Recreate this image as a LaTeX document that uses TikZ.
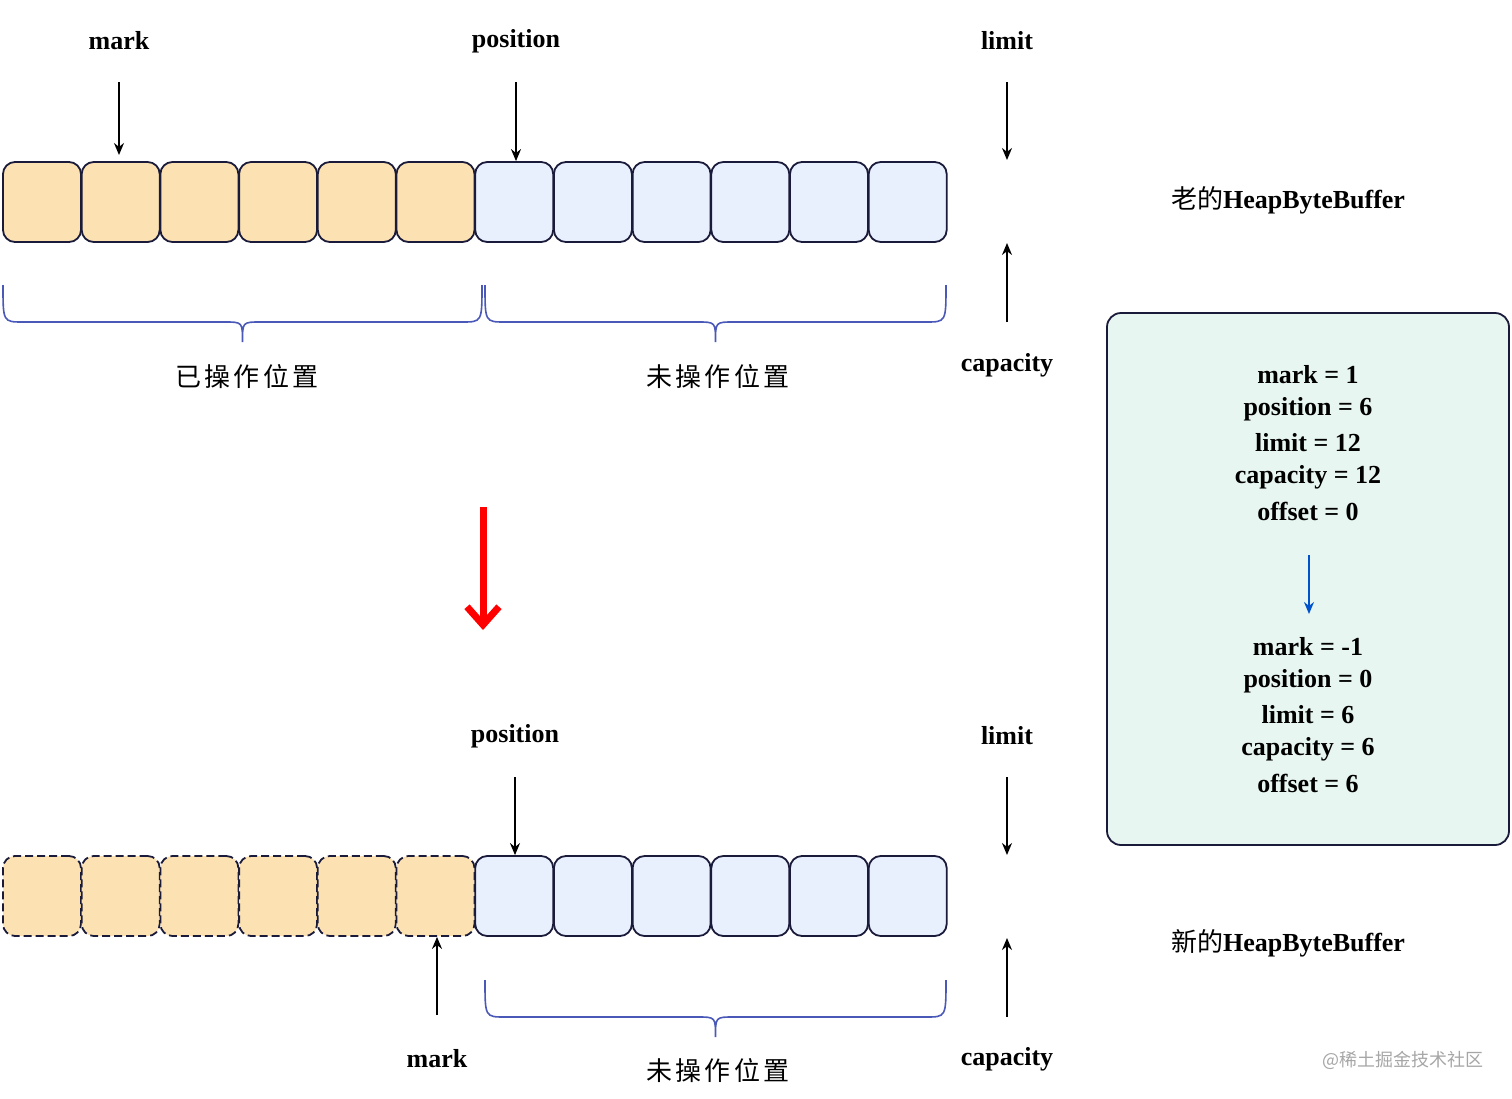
\documentclass[tikz,border=0pt]{standalone}
\usepackage{fontspec}
\setmainfont{Liberation Serif}
\newfontfamily\cjk[LetterSpace=12]{Noto Sans CJK SC}
\newfontfamily\cjkn{Noto Sans CJK SC}
\usetikzlibrary{arrows.meta}
\definecolor{org}{HTML}{FCE2B2}
\definecolor{blu}{HTML}{E9F0FD}
\definecolor{nav}{HTML}{1A1A3A}
\definecolor{brc}{HTML}{4A58B8}
\definecolor{boxf}{HTML}{E8F6F1}
\begin{document}
\begin{tikzpicture}[x=0.5pt,y=-0.5pt,
 cell/.style={draw=nav,line width=0.9pt,rounded corners=6pt,minimum width=39pt,minimum height=40pt,inner sep=0pt},
 lab/.style={font=\fontsize{13}{15}\selectfont\bfseries},
 cn/.style={font=\fontsize{13}{15}\selectfont\cjk},
 arr/.style={-{Stealth[length=6pt,width=5pt]},line width=0.8pt},
 brace/.style={draw=brc,line width=0.8pt}]
\useasboundingbox (0,0) rectangle (1512,1099);
% top row
\foreach \i in {0,...,5}{\node[cell,fill=org] (t\i) at (42+78.7*\i,202) {};}
\foreach \i in {6,...,11}{\node[cell,fill=blu] (t\i) at (42+78.7*\i,202) {};}
\node[lab] (tm) at (119,41) {mark};
\node[lab] (tp) at (516,41) {position};
\node[lab] (tl) at (1007,41) {limit};
\node[lab] (tc) at (1007,365) {capacity};
\coordinate (tma) at (119,82); \coordinate (tmb) at (119,155);
\draw[arr] (tma) -- (tmb);
\coordinate (tpa) at (516,82); \draw[arr] (tpa) -- (t6.north west -| tpa);
\coordinate (tla) at (1007,82); \coordinate (tlb) at (1007,160); \draw[arr] (tla) -- (tlb);
\coordinate (tca) at (1007,322); \coordinate (tcb) at (1007,243); \draw[arr] (tca) -- (tcb);
% braces
\newcommand\mybrace[4]{\draw[brace] (#1,#3) .. controls (#1,#3+37) .. (#1+20,#3+37) -- ({(#1+#2)/2-18},#3+37) .. controls ({(#1+#2)/2},#3+37) .. ({(#1+#2)/2},#3+57) .. controls ({(#1+#2)/2},#3+37) .. ({(#1+#2)/2+18},#3+37) -- (#2-20,#3+37) .. controls (#2,#3+37) .. (#2,#3);}
\mybrace{3}{482}{285}{}
\mybrace{485}{946}{285}{}
\node[cn] (b1) at (247,377) {已操作位置};
\node[cn] (b2) at (718,377) {未操作位置};
% red arrow
\coordinate (ra) at (483,507); \coordinate (rb) at (483,630);
\draw[red,line width=3.5pt,-{Straight Barb[length=9pt,width=16pt]}] (ra) -- (rb);
% right box
\node[draw=nav,fill=boxf,line width=0.9pt,rounded corners=7pt,minimum width=201pt,minimum height=266pt] (box) at (1308,579) {};
\foreach \t [count=\k] in {mark = 1,position = 6,limit = 12,capacity = 12,offset = 0}
 \node[lab] (o\k) at (1308,341+34*\k) {\t};
\foreach \t [count=\k] in {mark = -1,position = 0,limit = 6,capacity = 6,offset = 6}
 \node[lab] (n\k) at (1308,613+34*\k) {\t};
\coordinate (ba) at (1309,555); \coordinate (bb) at (1309,614);
\draw[arr,draw=blue!60!cyan!80!black,fill=blue!60!cyan!80!black] (ba) -- (bb);
\node[lab] (old) at (1288,200) {{\cjkn\mdseries 老的}HeapByteBuffer};
\node[lab] (new) at (1288,943) {{\cjkn\mdseries 新的}HeapByteBuffer};
% bottom row
\foreach \i in {0,...,5}{\node[cell,fill=org,dashed,dash pattern=on 4pt off 2pt] (u\i) at (42+78.7*\i,896) {};}
\foreach \i in {6,...,11}{\node[cell,fill=blu] (u\i) at (42+78.7*\i,896) {};}
\node[lab] (bp) at (515,736) {position};
\node[lab] (bl) at (1007,736) {limit};
\node[lab] (bm) at (437,1059) {mark};
\node[lab] (bc) at (1007,1059) {capacity};
\coordinate (bpa) at (515,777); \draw[arr] (bpa) -- (u6.north west -| bpa);
\coordinate (bla) at (1007,777); \coordinate (blb) at (1007,855); \draw[arr] (bla) -- (blb);
\coordinate (bma) at (437,1015); \draw[arr] (bma) -- (u5.south -| bma);
\coordinate (bca) at (1007,1017); \coordinate (bcb) at (1007,938); \draw[arr] (bca) -- (bcb);
\mybrace{485}{946}{980}{}
\node[cn] (b3) at (718,1071) {未操作位置};
\node[font=\fontsize{9}{11}\selectfont\cjkn,text=gray!70] (wm) at (1403,1060) {@稀土掘金技术社区};
\end{tikzpicture}
\end{document}
